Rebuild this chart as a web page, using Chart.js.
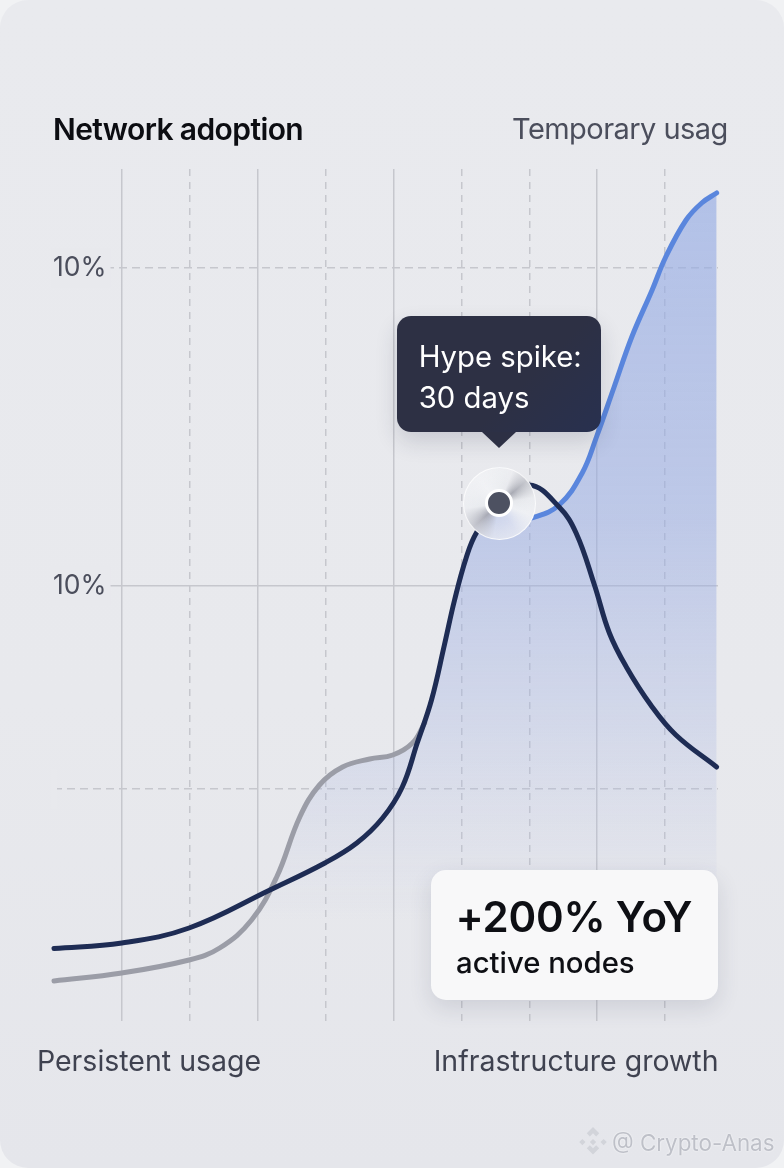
<!DOCTYPE html>
<html>
<head>
<meta charset="utf-8">
<title>Network adoption</title>
<script src="https://cdn.jsdelivr.net/npm/chart.js@4"></script>
<style>
    html, body { margin: 0; padding: 0; background: #f1f2f4; }
    #panel {
        position: relative; width: 784px; height: 1168px; overflow: hidden;
        border-radius: 28px;
        background: linear-gradient(180deg, #e9eaee 0%, #e8e9ed 60%, #e5e6eb 100%);
        font-family: Inter, sans-serif;
    }
    #panel canvas { position: absolute; left: 0; top: 0; }
    .label { position: absolute; white-space: nowrap; }
    #title { left: 53px; top: 111px; font-size: 30px; font-weight: 600; color: #0c0d12; letter-spacing: -0.6px; }
    #side { left: 512px; top: 111px; font-size: 29px; color: #4b4e5c; letter-spacing: -0.55px; }
    #hype {
        position: absolute; width: 204px; height: 116px; box-sizing: border-box;
        padding: 20px 0 0 22px; border-radius: 14px;
        background: linear-gradient(135deg, #2d3044 60%, #28304f 100%);
        color: #fff; font-size: 29.3px; line-height: 41px;
        box-shadow: 0 10px 22px rgba(40, 44, 70, 0.16);
    }
    #hype:after {
        content: ""; position: absolute; left: 85px; bottom: -16px;
        border-left: 17px solid transparent; border-right: 17px solid transparent;
        border-top: 16px solid #2d3044;
    }
    #glass {
        position: absolute; width: 73px; height: 73px; margin: -36px 0 0 -36px; border-radius: 50%;
        background:
            radial-gradient(circle, rgba(240, 241, 244, 0) 35%, rgba(240, 241, 244, 0.8) 100%),
            conic-gradient(#eceef1 0deg, #e9eaee 22deg, #a9abb4 50deg, #e6e8ec 80deg, #eef0f4 110deg, #d4daee 150deg, #d0d7ec 190deg, #a9abb6 228deg, #e9ebef 262deg, #f1f2f5 320deg, #eceef1 360deg);
        border: 1px solid rgba(255, 255, 255, 0.75); box-sizing: border-box;
    }
    #dot {
        position: absolute; width: 22px; height: 22px; margin: -14px 0 0 -14px; border-radius: 50%;
        background: #4d5161; border: 3px solid #fff;
    }
    #callout {
        position: absolute; left: 431px; top: 870px; width: 287px; height: 130px;
        border-radius: 15px; background: #f8f8f9;
        box-shadow: 0 8px 22px rgba(60, 64, 90, 0.14);
    }
    #big { position: absolute; left: 24.5px; top: 21px; font-size: 42px; font-weight: 600; letter-spacing: -0.2px; color: #0e0f14; white-space: nowrap; }
    #small { position: absolute; left: 25px; top: 75px; font-size: 29.3px; font-weight: 500; color: #0e0f14; white-space: nowrap; }
    #mark { position: absolute; left: 578px; top: 1127px; display: flex; align-items: center; color: #bec0c8; font-size: 22.4px; text-shadow: 0 0 2px #fff; white-space: nowrap; }
    #mark svg { margin-right: 4px; }
</style>
</head>
<body>
<div id="panel">
    <canvas id="adoptionChart" width="784" height="1168"></canvas>
    <div class="label" id="title">Network adoption</div>
    <div class="label" id="side">Temporary usag</div>
    <div id="glass"></div>
    <div id="dot"></div>
    <div id="hype">Hype spike:<br>30 days</div>
    <div id="callout">
        <div id="big">+200% YoY</div>
        <div id="small">active nodes</div>
    </div>
    <div id="mark">
        <svg width="30" height="30" viewBox="3 3 24 24" fill="#d2d4da">
            <path d="M15 3l5 5-2.500 2.500L15 8l-2.500 2.500L10 8zM6.500 12.500l2.500 2.500-2.500 2.500-2.500-2.500zM23.500 12.500l2.500 2.500-2.500 2.500-2.500-2.500zM15 12.500l2.500 2.500-2.500 2.500-2.500-2.500zM10 20l2.500-2.500 2.500 2.500 2.500-2.500 2.500 2.500-5 5z"/>
        </svg>@ Crypto-Anas
    </div>
</div>
<script>
    // x: 0-100 along the axis, y: 0-85 height
    var gridTicks = [10, 20, 30, 40, 50, 60, 70, 80, 90];
    var solidTicks = [10, 30, 50, 80];
    var xLabelTicks = [14.0, 76.9];
    var xLabels = ["Persistent usage", "Infrastructure growth"];
    var yTicks = [75.3, 43.5, 23.2];
    var yLabels = ["10%", "10%", ""];
    var yDashed = [75.3, 23.2];

    var grayX = [0, 10, 19.9, 24.4, 29.1, 32.8, 36.2, 39.1, 42.5, 46.5, 49.9, 52.8, 54.6];
    var grayY = [4.0, 4.8, 6.1, 7.3, 10.1, 14.4, 20.4, 23.6, 25.4, 26.2, 26.6, 27.8, 29.8];

    var darkX = [0, 10, 19.9, 31.8, 39.9, 44.6, 48.4, 51.3, 53.5, 55.6, 57.5, 59, 60.7, 62.2, 65.5, 70, 74.4, 76.9, 79.6, 81.8, 84.3, 87.9, 91.6, 97.6];
    var darkY = [7.25, 7.8, 9.3, 13.1, 15.8, 17.8, 20.3, 23.4, 27.8, 32.1, 37.6, 42.1, 46.3, 48.8, 51.8, 53.6, 51.4, 48.8, 43.6, 38.8, 35.4, 31.6, 28.6, 25.4];

    var blueX = [68.5, 70.4, 74.4, 77.8, 79.9, 82.5, 85.1, 88.1, 90.1, 93.1, 95.4, 97.6];
    var blueY = [50.2, 50.3, 51.6, 54.8, 58.4, 63.4, 68.4, 73.1, 76.4, 80.1, 81.8, 82.8];

    var hypeIndex = 14;

    function toPoints(xs, ys) {
        return xs.map(function(x, i) {
            return { x: x, y: ys[i] };
        });
    }

    // upper edge of the shaded area: gray, then dark, then blue
    var areaPoints = toPoints(grayX, grayY)
        .concat(toPoints(darkX.slice(9, 15), darkY.slice(9, 15)))
        .concat(toPoints(blueX, blueY));

    var gridColor = "#c6c7cd";

    function areaGradient(context) {
        var area = context.chart.chartArea;
        if (!area) {
            return "transparent";
        }
        var g = context.chart.ctx.createLinearGradient(0, 190, 0, 920);
        g.addColorStop(0, "rgba(150, 172, 228, 0.66)");
        g.addColorStop(0.45, "rgba(150, 170, 226, 0.52)");
        g.addColorStop(0.72, "rgba(160, 176, 226, 0.30)");
        g.addColorStop(0.9, "rgba(170, 182, 226, 0.11)");
        g.addColorStop(1, "rgba(170, 182, 226, 0)");
        return g;
    }

    var placeOverlays = {
        id: "placeOverlays",
        afterLayout: function(chart) {
            var px = chart.scales.x.getPixelForValue(darkX[hypeIndex]);
            var py = chart.scales.y.getPixelForValue(darkY[hypeIndex]);
            var glass = document.getElementById("glass");
            var dot = document.getElementById("dot");
            var hype = document.getElementById("hype");
            glass.style.left = px + "px";
            glass.style.top = py + "px";
            dot.style.left = px + "px";
            dot.style.top = py + "px";
            hype.style.left = (px - 102) + "px";
            hype.style.top = (py - 187) + "px";
        }
    };

    new Chart(document.getElementById("adoptionChart"), {
        type: "line",
        data: {
            datasets: [{
                label: "Area",
                data: areaPoints,
                borderWidth: 0,
                pointRadius: 0,
                fill: "origin",
                backgroundColor: areaGradient,
                tension: 0.4,
                order: 4
            }, {
                label: "Temporary usage",
                data: toPoints(grayX, grayY),
                borderColor: "#9b9da7",
                borderWidth: 5,
                borderCapStyle: "round",
                pointRadius: 0,
                tension: 0.4,
                order: 3
            }, {
                label: "Growth",
                data: toPoints(blueX, blueY),
                borderColor: "#5a86dd",
                borderWidth: 5,
                borderCapStyle: "round",
                pointRadius: 0,
                tension: 0.4,
                order: 2
            }, {
                label: "Persistent usage",
                data: toPoints(darkX, darkY),
                borderColor: "#1e2c54",
                borderWidth: 5,
                borderCapStyle: "round",
                pointRadius: 0,
                tension: 0.4,
                order: 1
            }]
        },
        options: {
            responsive: false,
            animation: false,
            clip: false,
            layout: {
                padding: { left: 54, right: 66, top: 169, bottom: 77 }
            },
            plugins: {
                legend: { display: false },
                tooltip: { enabled: false }
            },
            scales: {
                x: {
                    type: "linear",
                    min: 0,
                    max: 97.8,
                    afterFit: function(scale) {
                        scale.height = 70;
                    },
                    afterBuildTicks: function(scale) {
                        scale.ticks = gridTicks.concat(xLabelTicks).sort(function(a, b) {
                            return a - b;
                        }).map(function(v) {
                            return { value: v };
                        });
                    },
                    border: {
                        display: false,
                        dash: function(ctx) {
                            return ctx.tick && solidTicks.indexOf(ctx.tick.value) >= 0 ? [] : [7, 6];
                        }
                    },
                    grid: {
                        drawTicks: false,
                        lineWidth: 1.5,
                        color: function(ctx) {
                            return ctx.tick && xLabelTicks.indexOf(ctx.tick.value) >= 0 ? "transparent" : gridColor;
                        }
                    },
                    ticks: {
                        autoSkip: false,
                        maxRotation: 0,
                        padding: 24,
                        color: "#3f4250",
                        font: { family: "Inter", size: 28.5 },
                        callback: function(value) {
                            var i = xLabelTicks.indexOf(value);
                            return i >= 0 ? xLabels[i] : "";
                        }
                    }
                },
                y: {
                    type: "linear",
                    min: 0,
                    max: 85.2,
                    afterFit: function(scale) {
                        scale.width = 0;
                    },
                    afterBuildTicks: function(scale) {
                        scale.ticks = yTicks.map(function(v) {
                            return { value: v };
                        });
                    },
                    border: {
                        display: false,
                        dash: function(ctx) {
                            return ctx.tick && yDashed.indexOf(ctx.tick.value) >= 0 ? [8, 5] : [];
                        }
                    },
                    grid: {
                        drawTicks: false,
                        lineWidth: 1.5,
                        color: gridColor
                    },
                    ticks: {
                        mirror: true,
                        padding: -1,
                        color: "#4b4e5c",
                        font: { family: "Inter", size: 26.5 },
                        showLabelBackdrop: true,
                        backdropColor: "#e8e9ed",
                        backdropPadding: { left: 2, right: 4, top: 4, bottom: 4 },
                        callback: function(value) {
                            var i = yTicks.indexOf(value);
                            return i >= 0 ? yLabels[i] : "";
                        }
                    }
                }
            }
        },
        plugins: [placeOverlays]
    });
</script>
</body>
</html>
